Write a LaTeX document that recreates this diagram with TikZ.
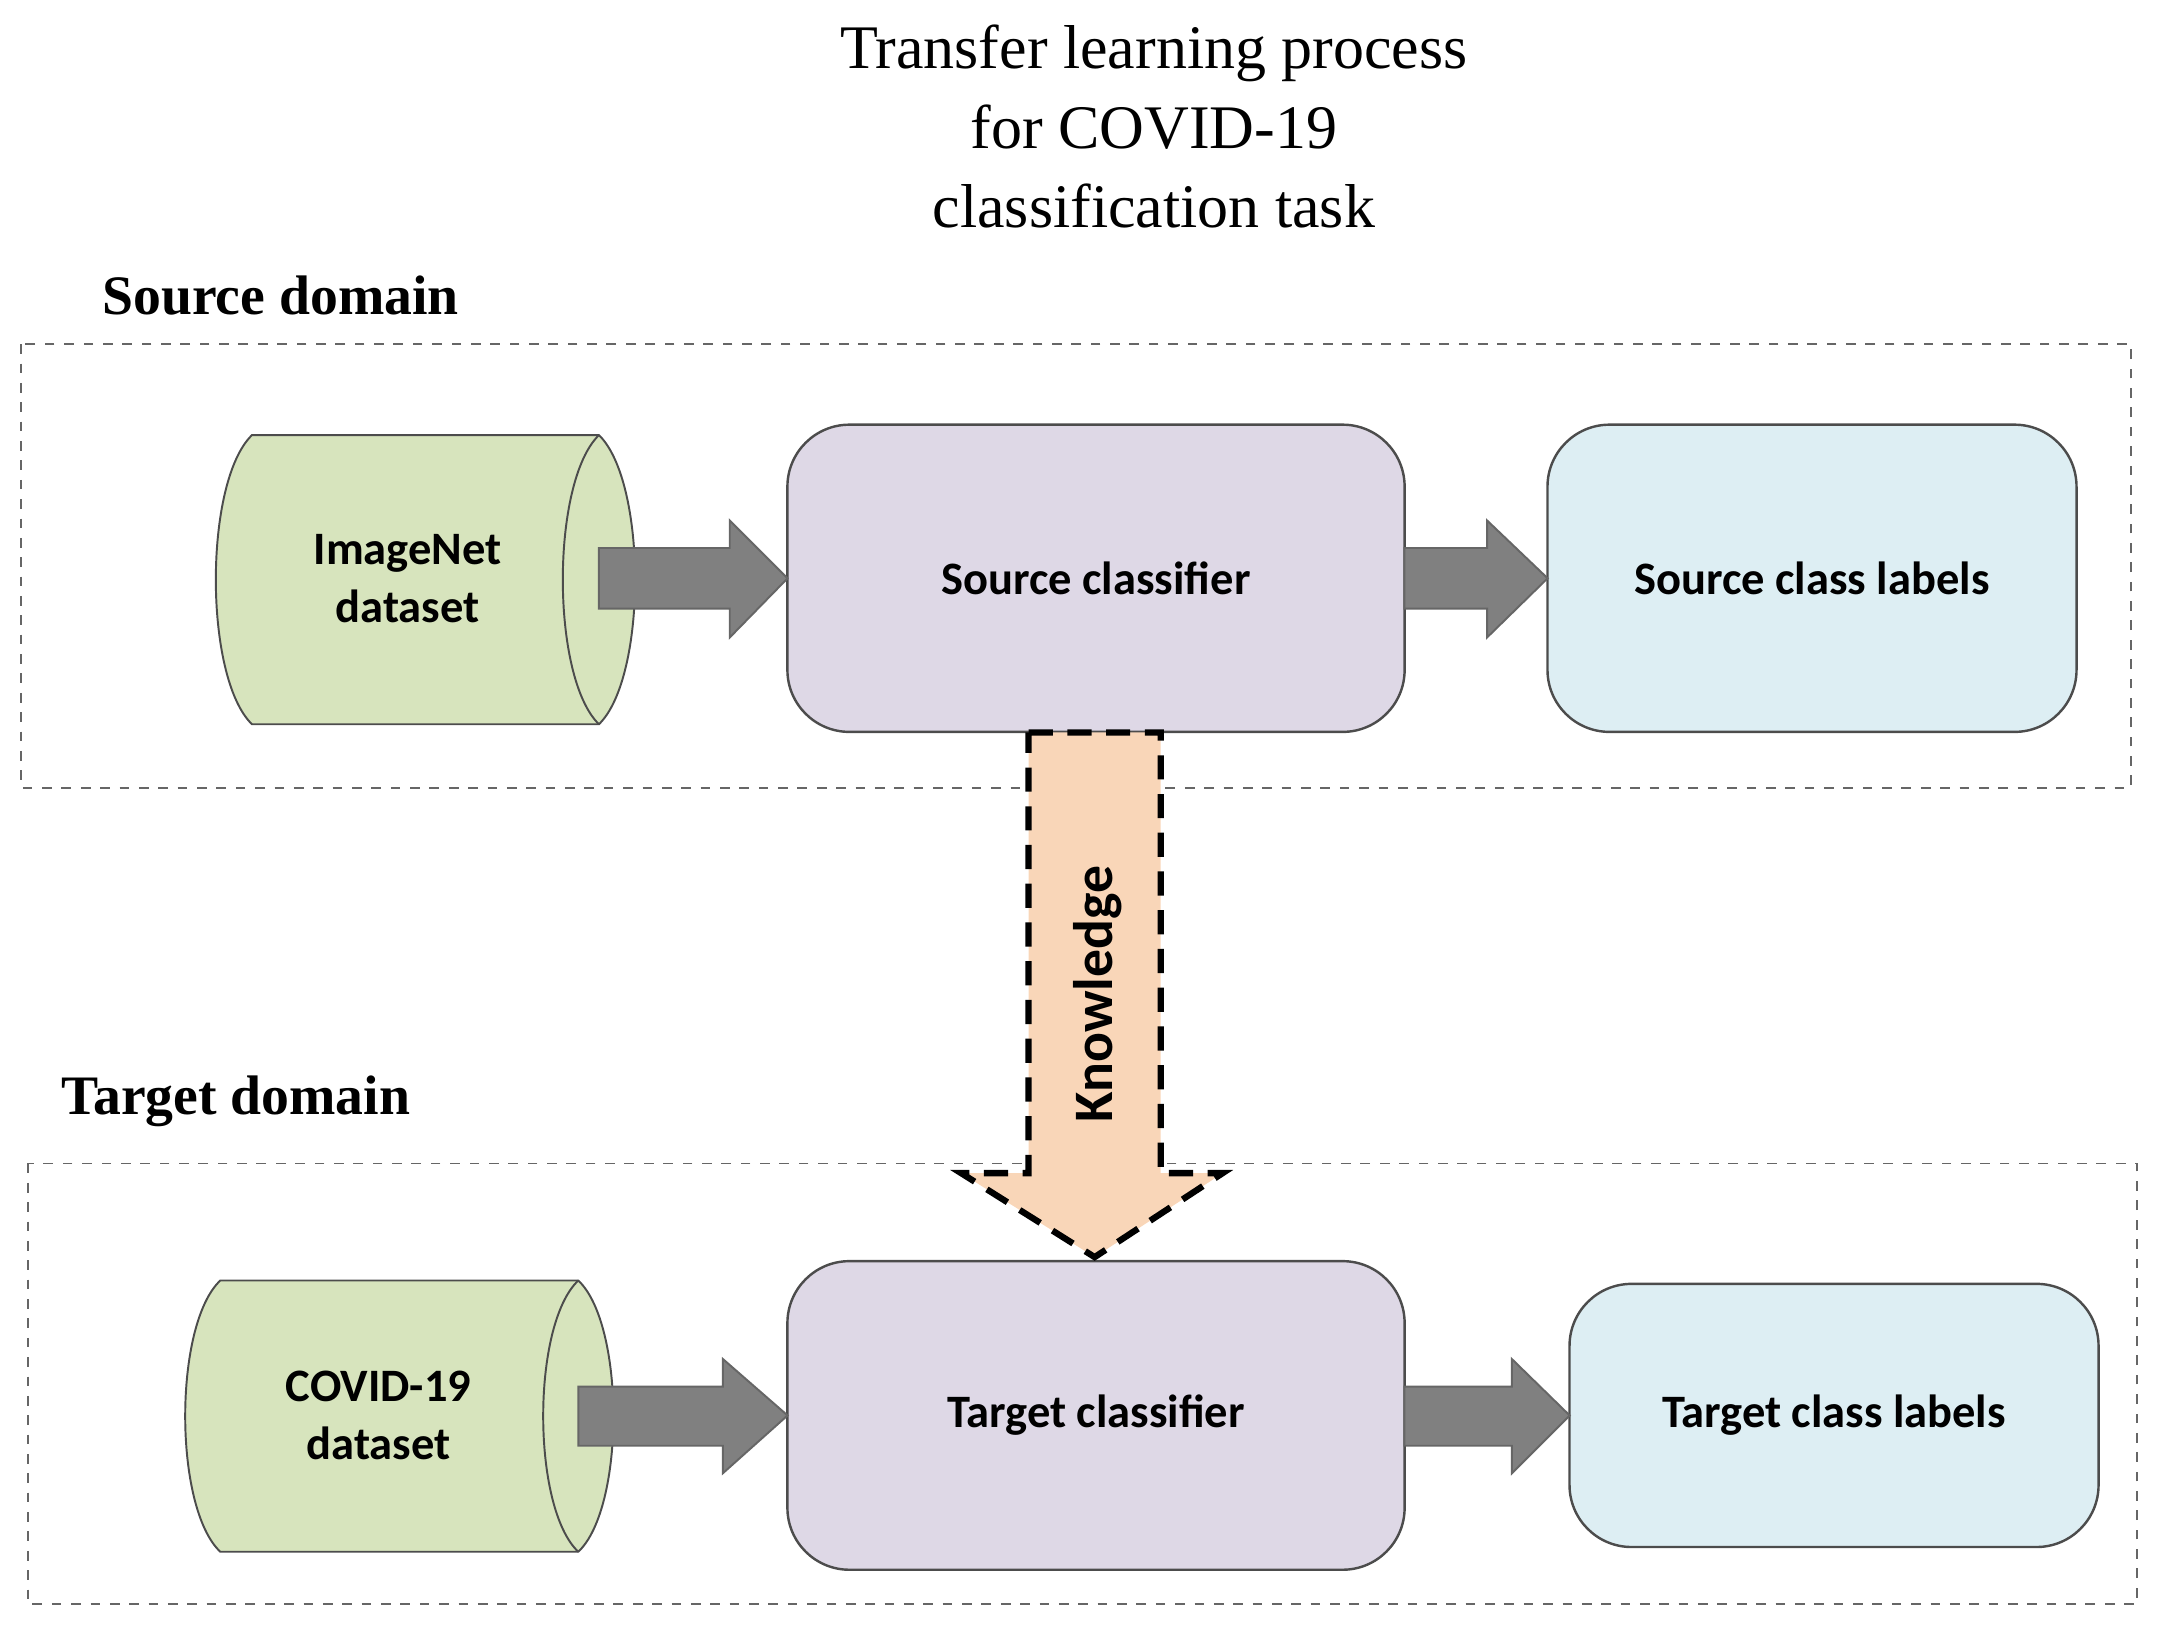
\documentclass[tikz,border=0pt]{standalone}
\usepackage{fontspec}
\setmainfont{Liberation Serif}
\newfontfamily\carlitofam{Carlito}
\begin{document}
\begin{tikzpicture}[x=0.01cm,y=-0.01cm,
 box/.style={draw=black!70,line width=0.5pt,rounded corners=0.45cm},
 lbl/.style={font=\carlitofam\bfseries\fontsize{9.6}{12}\selectfont,align=center},
 garrow/.style={fill=black!50,draw=black!60,line width=0.4pt},
 dom/.style={draw=black!60,dash pattern=on 2pt off 2pt,line width=0.4pt}]
\useasboundingbox (0,0) rectangle (1568,1183);
\definecolor{cylc}{HTML}{D7E4BD}
\definecolor{clsc}{HTML}{DED8E6}
\definecolor{labc}{HTML}{DDEEF3}
\definecolor{knc}{HTML}{F9D6B8}
\node[font=\fontsize{12.8}{16.4}\selectfont,align=center] (title) at (838,92) {Transfer learning process\\for COVID-19\\classification task};
\node[font=\bfseries\fontsize{11.5}{14}\selectfont,anchor=west] (sd) at (62,215) {Source domain};
\node[font=\bfseries\fontsize{11.5}{14}\selectfont,anchor=west] (td) at (32,800) {Target domain};
\draw[dom] (15,250) rectangle (1548,572);
\draw[dom] (20,845) rectangle (1552,1165);
% cylinders
\draw[fill=cylc,draw=black!70,line width=0.4pt] (183,316) -- (435,316) .. controls (470,350) and (470,492) .. (435,526) -- (183,526) .. controls (148,492) and (148,350) .. (183,316) -- cycle;
\draw[black!70,line width=0.4pt] (435,316) .. controls (400,350) and (400,492) .. (435,526);
\node[lbl] (imnet) at (296,420) {ImageNet\\dataset};
\draw[fill=cylc,draw=black!70,line width=0.4pt] (160,930) -- (420,930) .. controls (454,962) and (454,1095) .. (420,1127) -- (160,1127) .. controls (126,1095) and (126,962) .. (160,930) -- cycle;
\draw[black!70,line width=0.4pt] (420,930) .. controls (386,962) and (386,1095) .. (420,1127);
\node[lbl] (covid) at (275,1028) {COVID-19\\dataset};
% classifiers
\node[box,fill=clsc,minimum width=4.48cm,minimum height=2.23cm,lbl] (sc) at (796,420) {Source classifier};
\node[box,fill=labc,minimum width=3.84cm,minimum height=2.23cm,lbl] (sl) at (1316,420) {Source class labels};
\node[box,fill=clsc,minimum width=4.48cm,minimum height=2.24cm,lbl] (tc) at (796,1028) {Target classifier};
\node[box,fill=labc,minimum width=3.84cm,minimum height=1.91cm,lbl] (tl) at (1332,1028) {Target class labels};
% gray arrows
\draw[garrow] (435,398) -- (530,398) -- (530,378) -- (572,420) -- (530,463) -- (530,442) -- (435,442) -- cycle;
\draw[garrow] (1020,398) -- (1080,398) -- (1080,378) -- (1124,420) -- (1080,463) -- (1080,442) -- (1020,442) -- cycle;
\draw[garrow] (420,1007) -- (525,1007) -- (525,987) -- (572,1028) -- (525,1070) -- (525,1050) -- (420,1050) -- cycle;
\draw[garrow] (1020,1007) -- (1098,1007) -- (1098,987) -- (1140,1028) -- (1098,1070) -- (1098,1050) -- (1020,1050) -- cycle;
% knowledge
\draw[fill=knc,line width=1.3pt,dash pattern=on 5pt off 3pt] (747,532) -- (843,532) -- (843,852) -- (888,852) -- (795,913) -- (698,852) -- (747,852) -- cycle;
\node[font=\carlitofam\bfseries\fontsize{11.5}{14}\selectfont,rotate=90] (kn) at (797,722) {Knowledge};
\end{tikzpicture}
\end{document}
